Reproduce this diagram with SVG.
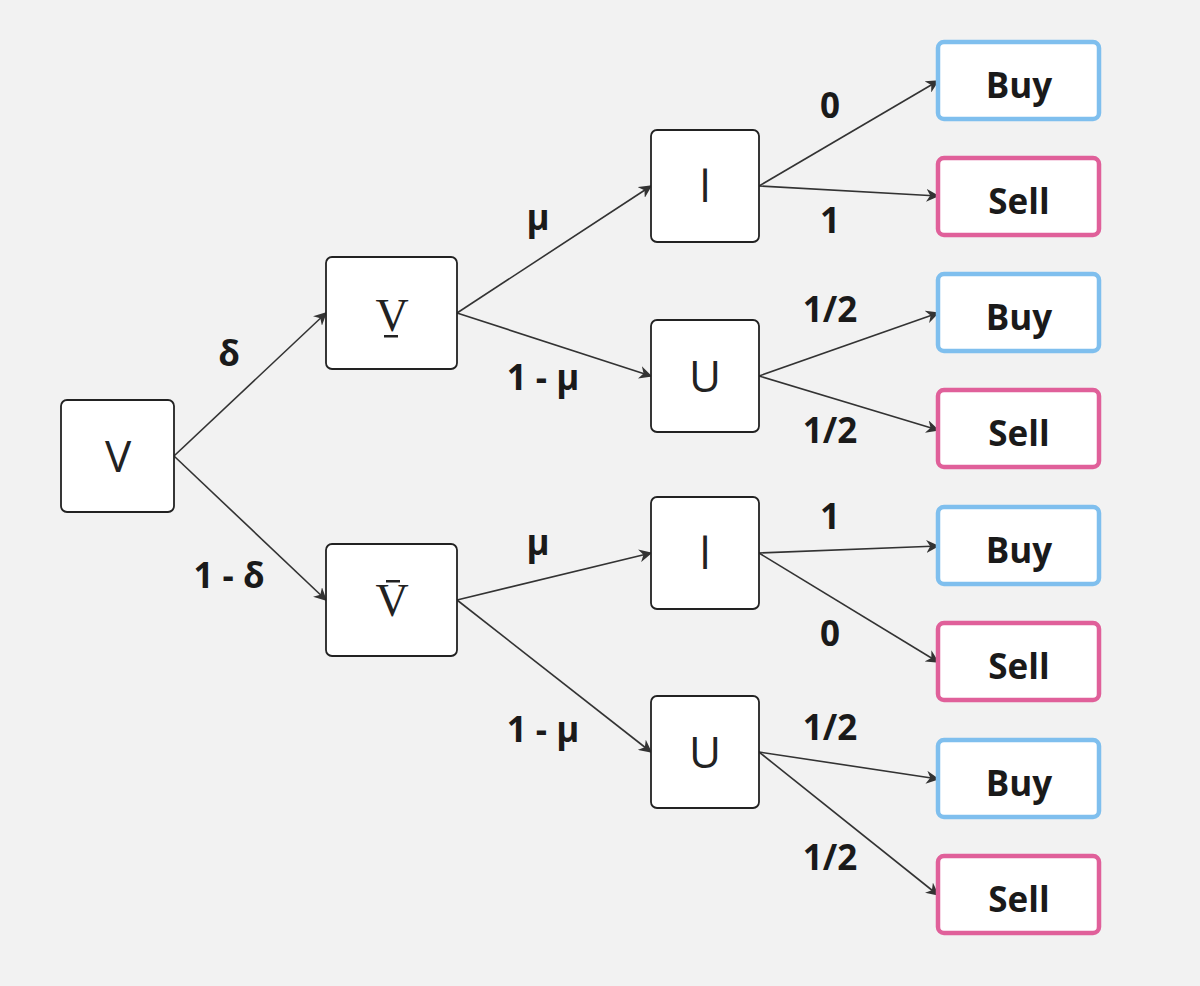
<svg xmlns="http://www.w3.org/2000/svg" width="1200" height="986" viewBox="0 0 1200 986">
<defs>
<marker id="a" viewBox="0 0 10 10" refX="9" refY="5" markerWidth="13" markerHeight="13" markerUnits="userSpaceOnUse" orient="auto"><path d="M0,0 L10,5 L0,10 L3,5 z" fill="#333"/></marker>
<style>
.n{fill:#fff;stroke:#222;stroke-width:1.8}
.b{fill:#fff;stroke:#7fbfee;stroke-width:4.5}
.s{fill:#fff;stroke:#e0609a;stroke-width:4.5}
.t{font-family:"Open Sans",sans-serif;font-weight:400;font-size:44px;fill:#222;text-anchor:middle}
.v{font-family:"Liberation Serif",serif;font-size:46px;fill:#222;text-anchor:middle}
.l{font-family:"Open Sans",sans-serif;font-weight:700;font-size:35px;fill:#1a1a1a;text-anchor:middle}
.e{stroke:#333;stroke-width:1.6;fill:none;marker-end:url(#a)}
</style>
</defs>
<rect width="1200" height="986" fill="#f2f2f2"/>
<g id="connectors">
<path class="e" d="M174,456 L326,313"/>
<path class="e" d="M174,456 L326,600"/>
<path class="e" d="M457,313 L651,186"/>
<path class="e" d="M457,313 L651,376"/>
<path class="e" d="M457,600 L651,553"/>
<path class="e" d="M457,600 L651,752"/>
<path class="e" d="M759,186 L938,81"/>
<path class="e" d="M759,186 L938,196"/>
<path class="e" d="M759,376 L938,313"/>
<path class="e" d="M759,376 L938,430"/>
<path class="e" d="M759,553 L938,546"/>
<path class="e" d="M759,553 L938,662"/>
<path class="e" d="M759,752 L938,779"/>
<path class="e" d="M759,752 L938,895"/>
<text class="l" x="229" y="366">δ</text>
<text class="l" x="229" y="588">1 - δ</text>
<text class="l" x="538" y="230">μ</text>
<text class="l" x="543" y="390">1 - μ</text>
<text class="l" x="538" y="555">μ</text>
<text class="l" x="543" y="742">1 - μ</text>
<text class="l" x="830" y="118">0</text>
<text class="l" x="830" y="233">1</text>
<text class="l" x="830" y="322">1/2</text>
<text class="l" x="830" y="443">1/2</text>
<text class="l" x="830" y="529">1</text>
<text class="l" x="830" y="646">0</text>
<text class="l" x="830" y="740">1/2</text>
<text class="l" x="830" y="870">1/2</text>
</g>
<g id="v"><rect class="n" x="61" y="400" width="113" height="112" rx="6"/><text class="t" x="118" y="472">V</text></g>
<g id="vlow"><rect class="n" x="326" y="257" width="131" height="112" rx="6"/><text class="v" x="392" y="331">V</text><rect x="384" y="335" width="14" height="2.5" fill="#222"/></g>
<g id="vhigh"><rect class="n" x="326" y="544" width="131" height="112" rx="6"/><text class="v" x="392" y="616">V</text><rect x="386" y="580" width="14" height="2.5" fill="#222"/></g>
<g id="i1"><rect class="n" x="651" y="130" width="108" height="112" rx="6"/><text class="t" x="705" y="202">l</text></g>
<g id="u1"><rect class="n" x="651" y="320" width="108" height="112" rx="6"/><text class="t" x="705" y="392">U</text></g>
<g id="i2"><rect class="n" x="651" y="497" width="108" height="112" rx="6"/><text class="t" x="705" y="569">l</text></g>
<g id="u2"><rect class="n" x="651" y="696" width="108" height="112" rx="6"/><text class="t" x="705" y="768">U</text></g>
<g id="buy1"><rect class="b" x="938" y="42" width="161" height="77" rx="6"/><text class="l" x="1019" y="98">Buy</text></g>
<g id="sell1"><rect class="s" x="938" y="158" width="161" height="77" rx="6"/><text class="l" x="1019" y="214">Sell</text></g>
<g id="buy2"><rect class="b" x="938" y="274" width="161" height="77" rx="6"/><text class="l" x="1019" y="330">Buy</text></g>
<g id="sell2"><rect class="s" x="938" y="390" width="161" height="77" rx="6"/><text class="l" x="1019" y="446">Sell</text></g>
<g id="buy3"><rect class="b" x="938" y="507" width="161" height="77" rx="6"/><text class="l" x="1019" y="563">Buy</text></g>
<g id="sell3"><rect class="s" x="938" y="623" width="161" height="77" rx="6"/><text class="l" x="1019" y="679">Sell</text></g>
<g id="buy4"><rect class="b" x="938" y="740" width="161" height="77" rx="6"/><text class="l" x="1019" y="796">Buy</text></g>
<g id="sell4"><rect class="s" x="938" y="856" width="161" height="77" rx="6"/><text class="l" x="1019" y="912">Sell</text></g>
</svg>
